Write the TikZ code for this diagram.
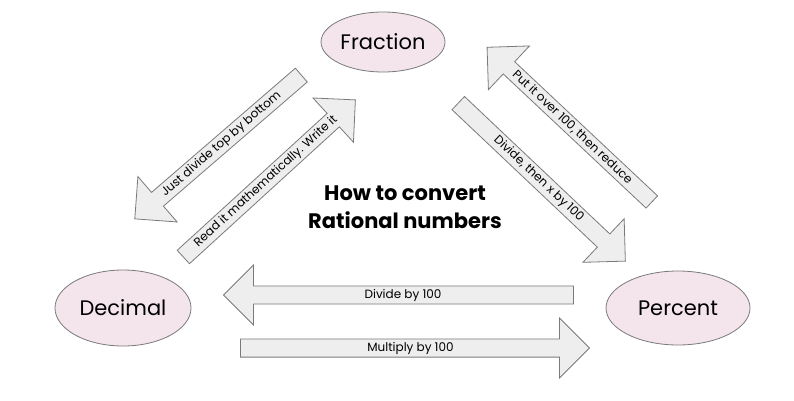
\documentclass[tikz,border=0pt]{standalone}
\usepackage{fontspec}
\setmainfont{Poppins}
\usetikzlibrary{shapes.geometric,shapes.arrows}
\definecolor{pinkf}{HTML}{F4E4EC}
\definecolor{arrf}{HTML}{EEEEEE}
\definecolor{edge}{HTML}{7A7A7A}
\tikzset{
  blob/.style={ellipse,draw=edge,fill=pinkf,line width=0.8pt,inner sep=0pt,font=\fontsize{21}{24}\selectfont},
  bigarrow/.style={single arrow,draw=edge,fill=arrf,line width=0.8pt,minimum width=60pt,
     single arrow head extend=15pt,single arrow tip angle=90,inner sep=0pt,font=\fontsize{12}{14}\selectfont,anchor=center},
}
\begin{document}
\begin{tikzpicture}[x=1pt,y=1pt]
\useasboundingbox (0,0) rectangle (794,400);
\node[blob,minimum width=124pt,minimum height=60pt] (frac) at (383,358) {Fraction};
\node[blob,minimum width=136pt,minimum height=76pt] (dec) at (123,92) {Decimal};
\node[blob,minimum width=144pt,minimum height=74pt] (perc) at (678,92) {Percent};
\node[font=\bfseries\fontsize{21}{28}\selectfont,align=center] (title) at (405,193) {How to convert\\Rational numbers};
\node[bigarrow,minimum height=220pt,rotate=40.8,shape border rotate=180] (a1) at (221.5,256) {Just divide top by bottom};
\node[bigarrow,minimum height=233pt,rotate=42.4] (a2) at (266,218.5) {Read it mathematically. Write it};
\node[bigarrow,minimum height=226pt,rotate=-43.2,shape border rotate=180] (a3) at (572.5,272.5) {Put it over 100, then reduce};
\node[bigarrow,minimum height=230pt,rotate=-43.4] (a4) at (538.5,221) {Divide, then x by 100};
\node[bigarrow,minimum height=350pt,shape border rotate=180] (a5) at (403,105) {Divide by 100};
\node[bigarrow,minimum height=349pt] (a6) at (410.5,52) {Multiply by 100};
\end{tikzpicture}
\end{document}
